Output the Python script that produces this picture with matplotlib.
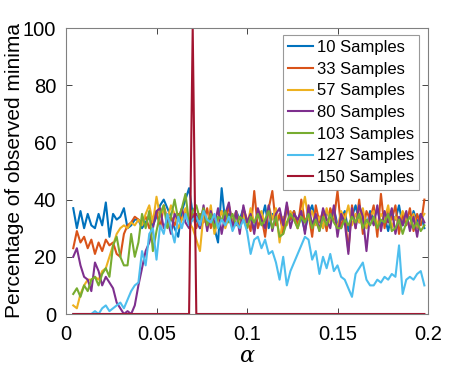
import numpy as np
import matplotlib
matplotlib.use("Agg")
import matplotlib.pyplot as plt

plt.rcParams['font.family'] = ['Liberation Sans', 'DejaVu Sans']
plt.rcParams['mathtext.fontset'] = 'dejavuserif'

alpha = np.round(np.arange(0.004, 0.1981, 0.002), 3)

s10 = [37, 30, 36, 30, 35, 31, 30, 35, 31, 39, 27, 35, 33, 34, 37, 30, 31, 33,
       33, 30, 32, 34, 31, 34, 38, 40, 37, 34, 30, 27, 36, 40, 44, 35,
       33, 30, 36, 32, 34, 30, 25, 44, 32, 35, 30, 36, 33, 37, 31, 34, 29, 36,
       33, 38, 30, 35, 32, 34, 30, 37, 33, 36, 31, 34, 29, 35, 38, 32, 34, 30,
       36, 33, 37, 31, 33, 36, 29, 34, 38, 32, 35, 30, 36, 33, 37, 31, 34, 29,
       35, 33, 38, 31, 34, 30, 36, 32, 35, 30]
s33 = [23, 29, 25, 27, 23, 26, 21, 25, 22, 26, 24, 25, 21, 20, 28, 31, 32, 34,
       33, 32, 34, 30, 33, 36, 30, 38, 33, 34, 31, 35, 33, 36, 32, 35,
       30, 35, 32, 37, 30, 34, 33, 36, 31, 38, 32, 35, 30, 37, 33, 29, 43, 30,
       34, 27, 37, 43, 31, 35, 28, 38, 33, 36, 30, 40, 32, 35, 27, 38, 32, 36,
       29, 37, 33, 43, 30, 35, 22, 38, 30, 40, 28, 36, 33, 38, 27, 42, 30, 36,
       33, 38, 28, 35, 31, 37, 29, 35, 31, 40]
s57 = [3, 2, 7, 10, 12, 12, 13, 12, 15, 16, 20, 24, 28, 30, 31, 30, 32, 31,
       33, 31, 35, 38, 32, 41, 34, 37, 33, 38, 35, 30, 33, 37, 32, 30,
       26, 22, 35, 30, 38, 28, 33, 36, 30, 34, 32, 36, 31, 35, 30, 37, 32, 34,
       36, 31, 38, 33, 37, 25, 34, 31, 36, 33, 30, 35, 41, 33, 36, 31, 34, 30,
       37, 32, 35, 30, 36, 33, 38, 31, 35, 32, 37, 30, 34, 36, 31, 35, 33, 38,
       30, 34, 32, 36, 33, 31, 35, 30, 33, 35]
s80 = [20, 23, 17, 13, 12, 8, 18, 15, 10, 13, 11, 9, 4, 2, 0, 1, 0, 3,
       10, 16, 22, 25, 30, 36, 37, 30, 33, 28, 35, 33, 37, 32, 30, 34,
       35, 30, 38, 29, 36, 31, 37, 28, 35, 39, 30, 36, 28, 38, 32, 35, 28, 37,
       33, 30, 38, 29, 35, 37, 31, 39, 30, 35, 33, 36, 28, 38, 31, 35, 29, 37,
       33, 30, 38, 27, 35, 32, 21, 37, 30, 38, 34, 22, 35, 31, 38, 29, 36, 32,
       37, 28, 34, 31, 36, 29, 34, 27, 35, 32]
s103 = [7, 9, 6, 10, 8, 12, 13, 10, 14, 16, 13, 24, 27, 20, 17, 17, 28, 20,
        25, 35, 30, 36, 22, 29, 35, 38, 30, 34, 40, 33, 37, 42, 32, 36,
        38, 33, 37, 31, 35, 30, 34, 33, 36, 32, 35, 31, 34, 33, 30, 34, 32, 35,
        31, 33, 36, 30, 34, 27, 28, 32, 35, 33, 30, 34, 32, 35, 30, 33, 29, 34,
        31, 35, 32, 30, 30, 33, 31, 34, 32, 35, 30, 33, 31, 34, 30, 33, 32, 35,
        29, 30, 33, 28, 32, 34, 30, 32, 29, 31]
s127 = [0, 0, 0, 0, 0, 0, 1, 0, 2, 3, 1, 2, 3, 4, 2, 5, 8, 10,
        11, 22, 17, 28, 30, 19, 31, 28, 35, 30, 25, 34, 30, 35, 31, 33,
        34, 31, 36, 33, 32, 35, 30, 33, 31, 34, 29, 32, 30, 33, 29, 21, 26, 27,
        23, 26, 21, 22, 18, 12, 20, 10, 15, 18, 21, 24, 27, 26, 19, 22, 14, 20,
        16, 21, 15, 17, 13, 12, 9, 6, 14, 16, 18, 12, 10, 10, 12, 11, 13, 12,
        14, 13, 24, 7, 12, 13, 12, 14, 15, 10]
s150 = [0] * 33 + [100] + [0] * 64

series = [s10, s33, s57, s80, s103, s127, s150]
labels = ['10 Samples', '33 Samples', '57 Samples', '80 Samples',
          '103 Samples', '127 Samples', '150 Samples']
colors = ['#0072BD', '#D95319', '#EDB120', '#7E2F8E', '#77AC30', '#4DBEEE', '#A2142F']

fig = plt.figure(figsize=(4.74, 3.71), dpi=100)
ax = fig.add_axes([66 / 474, 1 - 314 / 371, 362 / 474, 286 / 371])
for s, lab, c in zip(series, labels, colors):
    ax.plot(alpha, s, color=c, lw=1.5, label=lab)

ax.set_xlim(0, 0.2)
ax.set_ylim(0, 100)
ax.set_xticks([0, 0.05, 0.1, 0.15, 0.2])
ax.set_xticklabels(['0', '0.05', '0.1', '0.15', '0.2'])
ax.set_yticks([0, 20, 40, 60, 80, 100])
ax.tick_params(direction='in', length=4, width=0.6, labelsize=14.5,
               colors='#262626', top=True, right=True, labeltop=False, labelright=False)
ax.tick_params(axis='x', pad=8)
ax.tick_params(axis='y', pad=7)
for tl in ax.get_xticklabels() + ax.get_yticklabels():
    tl.set_color('black')
for sp in ax.spines.values():
    sp.set_color('#808080')
    sp.set_linewidth(0.8)
ax.set_xlabel(r'$\alpha$', fontsize=16, labelpad=1)
ax.set_ylabel('Percentage of observed minima', fontsize=15)
ax.yaxis.set_label_coords((24 - 66) / 362, 0.5)

leg = ax.legend(loc='upper right', bbox_to_anchor=((419 - 66) / 362, (314 - 35) / 286),
                borderaxespad=0, fontsize=12, frameon=True, fancybox=False,
                edgecolor='#808080', handlelength=1.5, handletextpad=0.25,
                borderpad=0.3, labelspacing=0.4)
leg.get_frame().set_linewidth(0.8)

fig.savefig('out.png', dpi=100)
